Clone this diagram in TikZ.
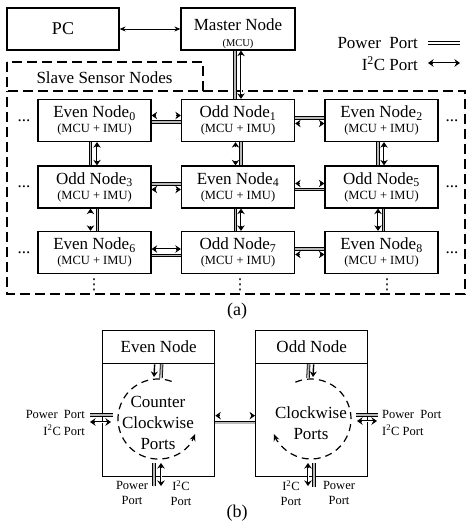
\documentclass[tikz,border=0pt]{standalone}
\usepackage{fontspec}
\setmainfont{Liberation Serif}
\newfontfamily\djv{DejaVu Sans}
\usetikzlibrary{arrows.meta,calc}
\newcommand\fsz[2]{\fontsize{#1}{#2}\selectfont}
\newcommand\gtext[2]{{\fsz{17}{15}#1\textsubscript{#2}}\\{\fsz{12.5}{15}(MCU + IMU)}}
\begin{document}
\begin{tikzpicture}[x=1pt,y=-1pt,
  box/.style={draw, line width=1.3pt, inner sep=0pt, align=center},
  gnode/.style={box, minimum width=113pt, minimum height=42pt, font=\fsz{12.5}{15}},
  dsh/.style={draw, line width=1.3pt, dash pattern=on 10pt off 5pt},
  cdash/.style={draw, line width=1.2pt, dash pattern=on 7pt off 5pt},
  pw/.style={draw, line width=0.8pt, double=gray!55, double distance=1.8pt},
  ic/.style={draw, line width=1.6pt,
    {Stealth[length=5.5pt,width=7.5pt]}-{Stealth[length=5.5pt,width=7.5pt]},
    postaction={draw=white, line width=0.5pt, arrows=-, shorten <=4.5pt, shorten >=4.5pt}},
  icd/.style={draw, line width=1.4pt, -{Stealth[length=5.5pt,width=7pt]}},
  thinarr/.style={draw, line width=0.8pt, {Stealth[length=6pt,width=5pt]}-{Stealth[length=6pt,width=5pt]}},
  lbl/.style={inner sep=0pt, font=\fsz{12.5}{15}, align=center},
]
\useasboundingbox (0,0) rectangle (474,529);
% ---------------- (a) ----------------
\node[box, minimum width=112pt, minimum height=42pt] (pc) at (63,29) {\fsz{18}{18}PC};
\node[box, minimum width=114pt, minimum height=42pt, font=\fsz{10.5}{12}] (ms) at (238,29)
  {\rule{0pt}{21pt}{\fsz{17}{17}Master Node}\\[4pt](MCU)};
\draw[thinarr] (pc) -- (ms);

\node[anchor=east, inner sep=0pt] (lp) at (418,43) {\fsz{17}{17}Power\ \ Port};
\node[anchor=east, inner sep=0pt] (li) at (418,64) {\fsz{17}{17}I\textsuperscript{2}C Port};
\coordinate (lpa) at (428,43); \coordinate (lpb) at (460,43);
\coordinate (lia) at (428,63); \coordinate (lib) at (460,63);
\draw[pw, double=white] (lpa) -- (lpb);
\draw[ic] (lia) -- (lib);

\draw[dsh] (7,62) rectangle (203,91);
\node[inner sep=0pt] (slave) at (104.5,78) {\fsz{17}{17}Slave Sensor Nodes};
\draw[dsh] (203,91) -- (465,91) -- (465,294) -- (7,294) -- (7,91);

\node[gnode] (n0) at (94.5,120.5) {\gtext{Even Node}{0}};
\node[gnode] (n1) at (238,120.5) {\gtext{Odd Node}{1}};
\node[gnode] (n2) at (381.5,120.5) {\gtext{Even Node}{2}};
\node[gnode] (n3) at (94.5,187) {\gtext{Odd Node}{3}};
\node[gnode] (n4) at (238,187) {\gtext{Even Node}{4}};
\node[gnode] (n5) at (381.5,187) {\gtext{Odd Node}{5}};
\node[gnode] (n6) at (94.5,252.5) {\gtext{Even Node}{6}};
\node[gnode] (n7) at (238,252.5) {\gtext{Odd Node}{7}};
\node[gnode] (n8) at (381.5,252.5) {\gtext{Even Node}{8}};

% master to node 1
\draw[pw] ([xshift=-3pt]ms.south) -- ([xshift=-3pt]n1.north);
\draw[ic] ([xshift=3pt]ms.south) -- ([xshift=3pt]n1.north);
% horizontal row 1
\draw[ic] ([yshift=5pt]n0.east) -- ([yshift=5pt]n1.west);
\draw[pw] ([yshift=-1.5pt]n0.east) -- ([yshift=-1.5pt]n1.west);
\draw[pw] ([yshift=2.5pt]n1.east) -- ([yshift=2.5pt]n2.west);
\draw[ic] ([yshift=-3pt]n1.east) -- ([yshift=-3pt]n2.west);
% row 2
\draw[pw] ([yshift=3pt]n3.east) -- ([yshift=3pt]n4.west);
\draw[ic] ([yshift=-2.5pt]n3.east) -- ([yshift=-2.5pt]n4.west);
\draw[ic] ([yshift=3.5pt]n4.east) -- ([yshift=3.5pt]n5.west);
\draw[pw] ([yshift=-2.5pt]n4.east) -- ([yshift=-2.5pt]n5.west);
% row 3
\draw[ic] ([yshift=3.5pt]n6.east) -- ([yshift=3.5pt]n7.west);
\draw[pw] ([yshift=-3pt]n6.east) -- ([yshift=-3pt]n7.west);
\draw[pw] ([yshift=3.5pt]n7.east) -- ([yshift=3.5pt]n8.west);
\draw[ic] ([yshift=-2pt]n7.east) -- ([yshift=-2pt]n8.west);
% vertical col 1
\draw[pw] ([xshift=-4pt]n0.south) -- ([xshift=-4pt]n3.north);
\draw[ic] ([xshift=2.5pt]n0.south) -- ([xshift=2.5pt]n3.north);
\draw[ic] ([xshift=-4pt]n3.south) -- ([xshift=-4pt]n6.north);
\draw[pw] ([xshift=3pt]n3.south) -- ([xshift=3pt]n6.north);
% col 2
\draw[ic] ([xshift=-2.5pt]n1.south) -- ([xshift=-2.5pt]n4.north);
\draw[pw] ([xshift=3pt]n1.south) -- ([xshift=3pt]n4.north);
\draw[pw] ([xshift=-2.5pt]n4.south) -- ([xshift=-2.5pt]n7.north);
\draw[ic] ([xshift=3pt]n4.south) -- ([xshift=3pt]n7.north);
% col 3
\draw[pw] ([xshift=-3.5pt]n2.south) -- ([xshift=-3.5pt]n5.north);
\draw[ic] ([xshift=2.5pt]n2.south) -- ([xshift=2.5pt]n5.north);
\draw[ic] ([xshift=-3.5pt]n5.south) -- ([xshift=-3.5pt]n8.north);
\draw[pw] ([xshift=2pt]n5.south) -- ([xshift=2pt]n8.north);

% ellipses
\foreach \r/\yy in {0/120.5,1/187,2/252.5}{
  \node[inner sep=0pt] (dl\r) at (24,\yy) {\fsz{17}{17}...};
  \node[inner sep=0pt] (dr\r) at (452,\yy) {\fsz{17}{17}...};
}
\foreach \c/\xx in {0/94,1/240,2/387}{
  \node[inner sep=0pt] (vd\c) at (\xx,285) {\djv\fsz{15}{15}⋮};
}
\node[inner sep=0pt] (capa) at (237,311) {\fsz{18}{18}(a)};

% ---------------- (b) ----------------
\node[box, minimum width=112pt, minimum height=33pt, anchor=north west] (eh) at (102,330) {\fsz{17}{17}Even Node};
\node[box, minimum width=112pt, minimum height=113pt, anchor=north west] (eb) at (102,363) {};
\node[box, minimum width=112pt, minimum height=33pt, anchor=north west] (oh) at (255,330) {\fsz{17}{17}Odd Node};
\node[box, minimum width=112pt, minimum height=113pt, anchor=north west] (ob) at (255,363) {};

\node[align=center, inner sep=0pt, font=\fsz{17}{21}] (et) at (158,423) {Counter\\Clockwise\\Ports};
\node[align=center, inner sep=0pt, font=\fsz{17}{21}] (ot) at (311,423.5) {Clockwise\\Ports};

\coordinate (ec) at (158,419);
\coordinate (oc) at (311,419);
\draw[cdash, -{Stealth[length=7pt,width=6pt]}] (ec) ++(-70:40) arc[start angle=-70, end angle=-338, radius=40];
\draw[cdash, -{Stealth[length=7pt,width=6pt]}] (oc) ++(-113:40) arc[start angle=-113, end angle=158, radius=40];

% even <-> odd
\draw[ic] ([yshift=4.5pt]eb.east) -- ([yshift=4.5pt]ob.west);
\draw[pw] ([yshift=-2.5pt]eb.east) -- ([yshift=-2.5pt]ob.west);

% even ports
\coordinate (etp) at (161,378); \coordinate (eta) at (154,377);
\draw[pw] ([xshift=3pt]eh.south) -- (etp);
\draw[icd] ([xshift=-4pt]eh.south) -- (eta);
\coordinate (elp1) at (90,415); \coordinate (elp2) at (113,415);
\coordinate (ela1) at (90,422); \coordinate (ela2) at (111,422);
\draw[pw] (elp1) -- (elp2);
\draw[ic] (ela1) -- (ela2);
\coordinate (ebp1) at (154,463); \coordinate (ebp2) at (154,486);
\coordinate (eba1) at (161,463); \coordinate (eba2) at (161,486);
\draw[pw] (ebp1) -- (ebp2);
\draw[ic] (eba1) -- (eba2);

% odd ports
\coordinate (otp) at (308,378); \coordinate (ota) at (313,377);
\draw[pw] ([xshift=-3pt]oh.south) -- (otp);
\draw[icd] ([xshift=2pt]oh.south) -- (ota);
\coordinate (orp1) at (356,415); \coordinate (orp2) at (378,415);
\coordinate (ora1) at (357,421); \coordinate (ora2) at (377,421);
\draw[pw] (orp1) -- (orp2);
\draw[ic] (ora1) -- (ora2);
\coordinate (oba1) at (308,463); \coordinate (oba2) at (308,486);
\coordinate (obp1) at (314,463); \coordinate (obp2) at (314,487);
\draw[ic] (oba1) -- (oba2);
\draw[pw] (obp1) -- (obp2);

% labels
\node[lbl, anchor=east] (elpl) at (85,414) {Power\ \ Port};
\node[lbl, anchor=east] (elil) at (85,430) {I\textsuperscript{2}C Port};
\node[lbl] (ebpl) at (132,493) {Power\\Port};
\node[lbl] (ebil) at (181,493) {I\textsuperscript{2}C\\Port};
\node[lbl, anchor=west] (orpl) at (382,414) {Power\ \ Port};
\node[lbl, anchor=west] (oril) at (382,430) {I\textsuperscript{2}C Port};
\node[lbl] (obil) at (291,493) {I\textsuperscript{2}C\\Port};
\node[lbl] (obpl) at (339,493) {Power\\Port};

\node[inner sep=0pt] (capb) at (237,513) {\fsz{18}{18}(b)};
\end{tikzpicture}
\end{document}
